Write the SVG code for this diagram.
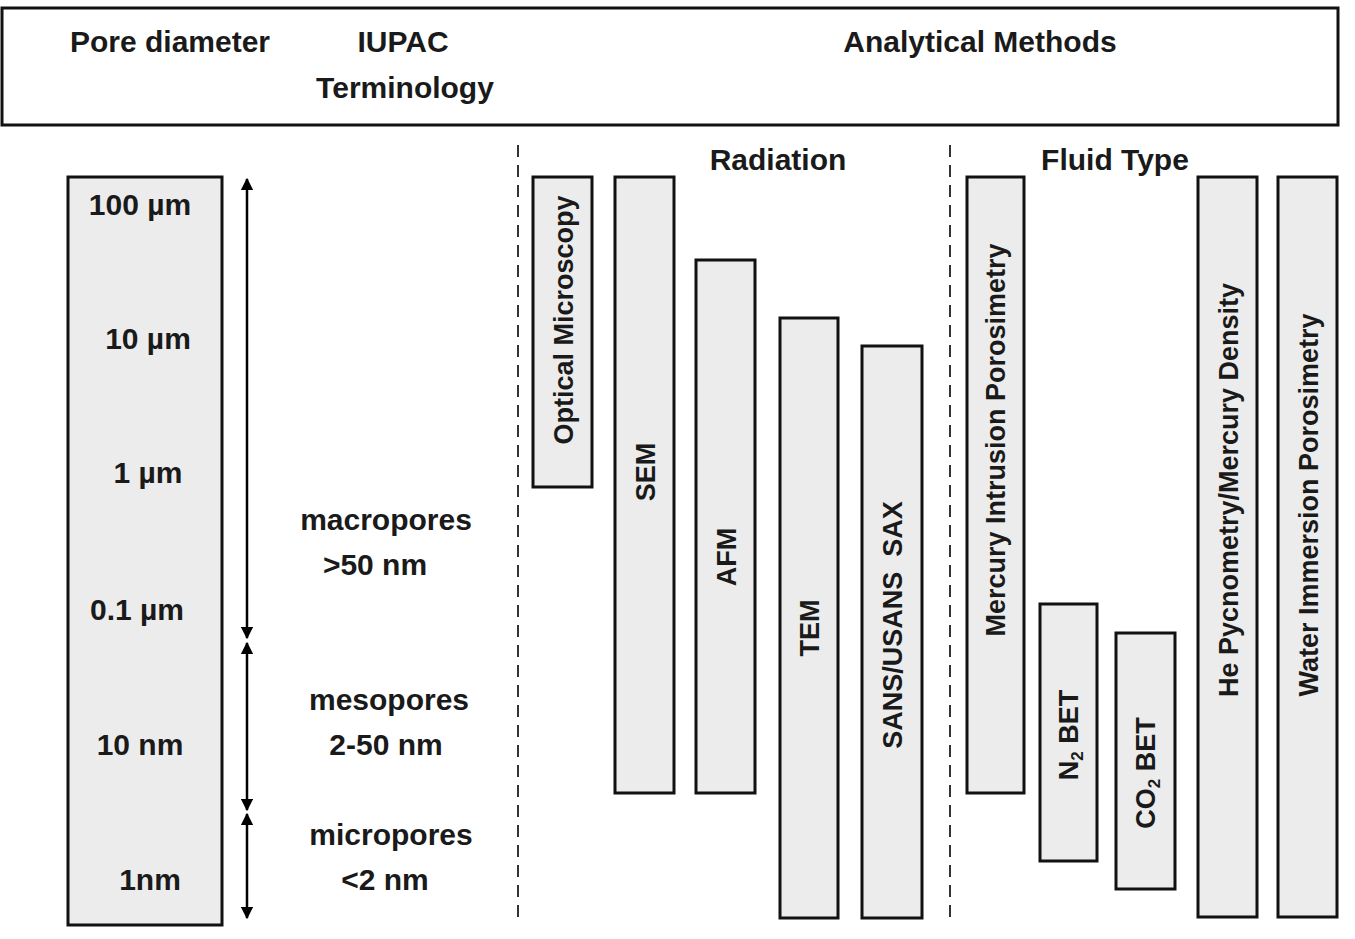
<svg xmlns="http://www.w3.org/2000/svg" width="1355" height="939" viewBox="0 0 1355 939">
<defs>
<marker id="ah" viewBox="0 0 10 10" refX="9" refY="5" markerWidth="5" markerHeight="5" orient="auto-start-reverse"><path d="M0,0 L10,5 L0,10 z" fill="#000"/></marker>
<style>
text{font-family:"Liberation Sans","Open Sans",sans-serif;font-weight:bold;fill:#1a1a1a;text-anchor:middle}
.t{font-size:30px}
.b{font-size:27px}
.bar{fill:#ececec;stroke:#111;stroke-width:3}
.dash{stroke:#333;stroke-width:2;stroke-dasharray:12 8}
.arr{stroke:#000;stroke-width:2.5;marker-start:url(#ah);marker-end:url(#ah)}
</style>
</defs>
<rect width="1355" height="939" fill="#fff"/>
<g id="header">
<rect x="2" y="8" width="1336" height="117" fill="#fff" stroke="#111" stroke-width="3"/>
<text class="t" x="170" y="52">Pore diameter</text>
<text class="t" x="403" y="52">IUPAC</text>
<text class="t" x="405" y="98">Terminology</text>
<text class="t" x="980" y="52">Analytical Methods</text>
</g>
<g id="scale">
<rect class="bar" x="68" y="177" width="154" height="748"/>
<text class="t" x="140" y="215">100 µm</text>
<text class="t" x="148" y="349">10 µm</text>
<text class="t" x="148" y="483">1 µm</text>
<text class="t" x="137" y="620">0.1 µm</text>
<text class="t" x="140" y="755">10 nm</text>
<text class="t" x="150" y="890">1nm</text>
</g>
<g id="iupac">
<text class="t" x="386" y="530">macropores</text>
<text class="t" x="375" y="575">&gt;50 nm</text>
<text class="t" x="389" y="710">mesopores</text>
<text class="t" x="386" y="755">2-50 nm</text>
<text class="t" x="391" y="845">micropores</text>
<text class="t" x="385" y="890">&lt;2 nm</text>
</g>
<g id="connectors">
<line class="arr" x1="247" y1="179" x2="247" y2="638"/>
<line class="arr" x1="247" y1="643" x2="247" y2="810"/>
<line class="arr" x1="247" y1="814" x2="247" y2="918"/>
<line class="dash" x1="518" y1="145" x2="518" y2="925"/>
<line class="dash" x1="950" y1="145" x2="950" y2="925"/>
</g>
<g id="sections">
<text class="t" x="778" y="170">Radiation</text>
<text class="t" x="1115" y="170">Fluid Type</text>
</g>
<g id="optical"><rect class="bar" x="533" y="177" width="59" height="310"/><text class="b" transform="translate(573,320) rotate(-90)">Optical Microscopy</text></g>
<g id="sem"><rect class="bar" x="615" y="177" width="59" height="616"/><text class="b" transform="translate(655,472) rotate(-90)">SEM</text></g>
<g id="afm"><rect class="bar" x="696" y="260" width="59" height="533"/><text class="b" transform="translate(736,557) rotate(-90)">AFM</text></g>
<g id="tem"><rect class="bar" x="780" y="318" width="58" height="600"/><text class="b" transform="translate(819,628) rotate(-90)">TEM</text></g>
<g id="sans"><rect class="bar" x="862" y="346" width="60" height="572"/><text class="b" transform="translate(902,625) rotate(-90)" xml:space="preserve">SANS/USANS  SAX</text></g>
<g id="mercury"><rect class="bar" x="967" y="177" width="57" height="616"/><text class="b" transform="translate(1005,440) rotate(-90)">Mercury Intrusion Porosimetry</text></g>
<g id="n2"><rect class="bar" x="1040" y="604" width="57" height="257"/><text class="b" transform="translate(1078,735) rotate(-90)">N<tspan font-size="17" dy="5">2</tspan><tspan dy="-5"> BET</tspan></text></g>
<g id="co2"><rect class="bar" x="1116" y="633" width="59" height="256"/><text class="b" transform="translate(1155,773) rotate(-90)">CO<tspan font-size="17" dy="5">2</tspan><tspan dy="-5"> BET</tspan></text></g>
<g id="he"><rect class="bar" x="1198" y="177" width="59" height="740"/><text class="b" transform="translate(1238,490) rotate(-90)">He Pycnometry/Mercury Density</text></g>
<g id="water"><rect class="bar" x="1278" y="177" width="59" height="740"/><text class="b" transform="translate(1318,505) rotate(-90)">Water Immersion Porosimetry</text></g>
</svg>
